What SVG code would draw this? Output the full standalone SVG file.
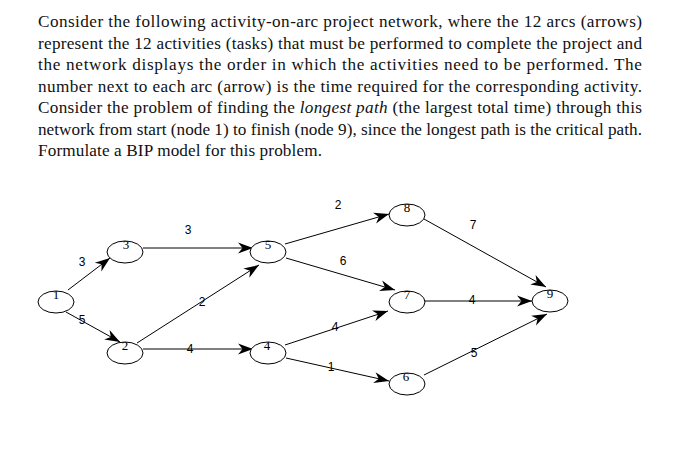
<svg xmlns="http://www.w3.org/2000/svg" width="690" height="476" viewBox="0 0 690 476">
<style>
.para{font-family:"Liberation Serif","Times New Roman",serif;font-size:17.2px;fill:#111}
.node ellipse{fill:#fff;stroke:#000;stroke-width:1}
.node text{font-family:"Liberation Serif","Times New Roman",serif;font-size:13px;text-anchor:middle;fill:#000}
.edges line{stroke:#000;stroke-width:1;marker-end:url(#arr)}
.lbl{font-family:"Liberation Sans",Arial,sans-serif;font-size:12px;text-anchor:middle;fill:#000}
</style>
<defs>
<marker id="arr" markerUnits="userSpaceOnUse" markerWidth="18" markerHeight="14" viewBox="-17 -7 18 14" refX="0" refY="0" orient="auto">
<path d="M0,0 L-15,-5.5 L-10.5,0 L-15,5.5 Z" fill="#000"/>
</marker>
</defs>
<rect width="690" height="476" fill="#fff"/>
<g id="paragraph" class="para">
<text x="38" y="27" textLength="604" lengthAdjust="spacing">Consider the following activity-on-arc project network, where the 12 arcs (arrows)</text>
<text x="38" y="48.5" textLength="604" lengthAdjust="spacing">represent the 12 activities (tasks) that must be performed to complete the project and</text>
<text x="38" y="70" textLength="604" lengthAdjust="spacing">the network displays the order in which the activities need to be performed. The</text>
<text x="38" y="91.5" textLength="604" lengthAdjust="spacing">number next to each arc (arrow) is the time required for the corresponding activity.</text>
<text x="38" y="113" textLength="604" lengthAdjust="spacing">Consider the problem of finding the <tspan font-style="italic">longest path</tspan> (the largest total time) through this</text>
<text x="38" y="134.5" textLength="604" lengthAdjust="spacing">network from start (node 1) to finish (node 9), since the longest path is the critical path.</text>
<text x="38" y="156" textLength="284" lengthAdjust="spacing">Formulate a BIP model for this problem.</text>
</g>
<g id="connectors" class="edges">
<line x1="68" y1="290" x2="110" y2="258"/>
<line x1="66" y1="312" x2="120" y2="342"/>
<line x1="143" y1="248" x2="253" y2="248"/>
<line x1="137" y1="343" x2="259" y2="265"/>
<line x1="143" y1="349" x2="253" y2="349"/>
<line x1="285" y1="244" x2="389" y2="214"/>
<line x1="286" y1="258" x2="395" y2="290"/>
<line x1="285" y1="345" x2="388" y2="311"/>
<line x1="286" y1="358" x2="389" y2="381"/>
<line x1="424" y1="219" x2="546" y2="287"/>
<line x1="424" y1="301" x2="532" y2="301"/>
<line x1="424" y1="375" x2="547" y2="314"/>
</g>
<g id="labels" class="lbl">
<text x="82" y="266">3</text>
<text x="82" y="324">5</text>
<text x="188" y="234">3</text>
<text x="202" y="306">2</text>
<text x="190" y="353">4</text>
<text x="338" y="209">2</text>
<text x="343" y="265">6</text>
<text x="335" y="331">4</text>
<text x="331" y="371">1</text>
<text x="473" y="229">7</text>
<text x="472" y="304">4</text>
<text x="474" y="357">5</text>
</g>
<g id="node1" class="node"><ellipse cx="56" cy="302" rx="18" ry="11"/><text x="56" y="299">1</text></g>
<g id="node3" class="node"><ellipse cx="125" cy="252" rx="18" ry="11"/><text x="126" y="249">3</text></g>
<g id="node2" class="node"><ellipse cx="125" cy="353" rx="18" ry="11"/><text x="125" y="350">2</text></g>
<g id="node5" class="node"><ellipse cx="268" cy="252" rx="18" ry="11"/><text x="268" y="249">5</text></g>
<g id="node4" class="node"><ellipse cx="268" cy="353" rx="18" ry="11"/><text x="267" y="350">4</text></g>
<g id="node8" class="node"><ellipse cx="407" cy="215" rx="18" ry="11"/><text x="407" y="212">8</text></g>
<g id="node7" class="node"><ellipse cx="407" cy="302" rx="18" ry="11"/><text x="407" y="299">7</text></g>
<g id="node6" class="node"><ellipse cx="407" cy="384" rx="18" ry="11"/><text x="406" y="381">6</text></g>
<g id="node9" class="node"><ellipse cx="550" cy="301" rx="18" ry="11"/><text x="550" y="298">9</text></g>
</svg>
